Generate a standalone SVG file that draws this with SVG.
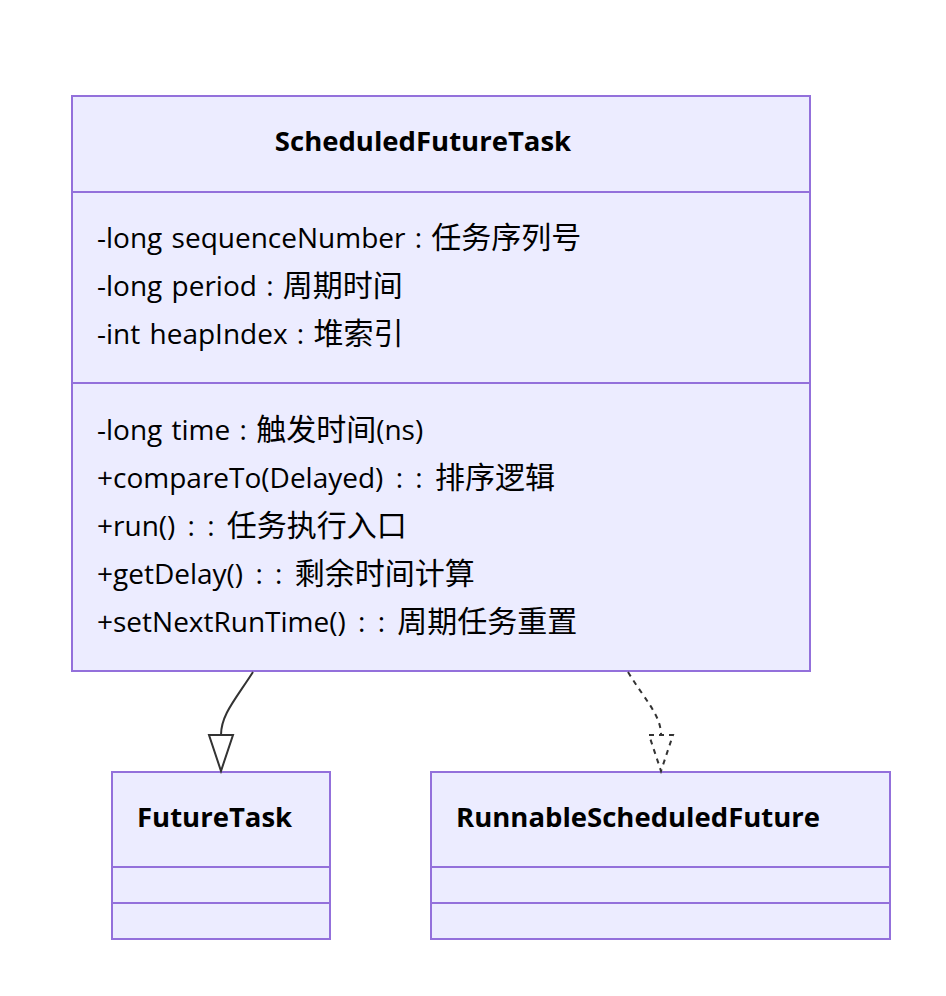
<svg xmlns="http://www.w3.org/2000/svg" width="946" height="996" viewBox="0 0 946 996">
<style>
.box{fill:#ECECFF;stroke:#9370DB;stroke-width:2}
.div{stroke:#9370DB;stroke-width:2}
.t{font-family:"Open Sans","Noto Sans CJK SC",sans-serif;font-size:28px;fill:#000;word-spacing:2px}
.m{word-spacing:5px}
.c{font-size:30px}
.b{font-weight:bold;font-size:27.5px}
.edge{fill:none;stroke:#333;stroke-width:2}
.head{fill:#fff;stroke:#333;stroke-width:2}
.dash{stroke-dasharray:5,5}
</style>
<rect width="946" height="996" fill="#fff"/>
<g id="ScheduledFutureTask">
<rect class="box" x="72" y="96" width="738" height="575"/>
<line class="div" x1="72" y1="192" x2="810" y2="192"/>
<line class="div" x1="72" y1="383" x2="810" y2="383"/>
<text class="t b" x="423" y="151" text-anchor="middle">ScheduledFutureTask</text>
<text class="t" x="97" y="248">-long sequenceNumber : <tspan class="c">任务序列号</tspan></text>
<text class="t" x="97" y="296">-long period : <tspan class="c">周期时间</tspan></text>
<text class="t" x="97" y="344">-int heapIndex : <tspan class="c">堆索引</tspan></text>
<text class="t" x="97" y="440">-long time : <tspan class="c">触发时间</tspan>(ns)</text>
<text class="t m" x="97" y="488">+compareTo(Delayed) : : <tspan class="c">排序逻辑</tspan></text>
<text class="t m" x="97" y="536">+run() : : <tspan class="c">任务执行入口</tspan></text>
<text class="t m" x="97" y="584">+getDelay() : : <tspan class="c">剩余时间计算</tspan></text>
<text class="t m" x="97" y="632">+setNextRunTime() : : <tspan class="c">周期任务重置</tspan></text>
</g>
<g id="FutureTask">
<rect class="box" x="112" y="772" width="218" height="167"/>
<line class="div" x1="112" y1="867" x2="330" y2="867"/>
<line class="div" x1="112" y1="903" x2="330" y2="903"/>
<text class="t b" x="137" y="827">FutureTask</text>
</g>
<g id="RunnableScheduledFuture">
<rect class="box" x="431" y="772" width="459" height="167"/>
<line class="div" x1="431" y1="867" x2="890" y2="867"/>
<line class="div" x1="431" y1="903" x2="890" y2="903"/>
<text class="t b" x="456" y="827">RunnableScheduledFuture</text>
</g>
<g id="connectors">
<path class="edge" d="M253,672 C235,700 221,715 221,735"/>
<path class="head" d="M209,735 L233,735 L221,771 Z"/>
<path class="edge dash" d="M628,672 C645,700 661,715 661,735"/>
<path class="head dash" d="M649,735 L673,735 L661,771 Z"/>
</g>
</svg>
